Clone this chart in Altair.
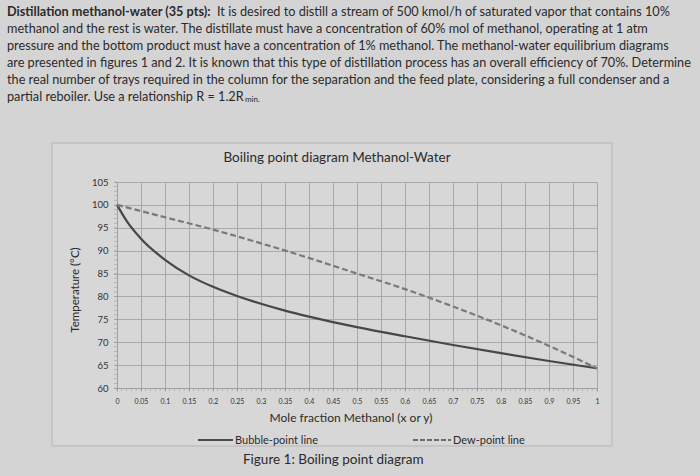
import altair as alt
import pandas as pd

# Bubble-point (liquid) line: x = mole fraction methanol, T in °C
bubble_x = [0, 0.02, 0.05, 0.1, 0.15, 0.2, 0.25, 0.3, 0.35, 0.4, 0.45, 0.5, 0.6, 0.7, 0.8, 0.9, 1.0]
bubble_t = [100, 96.5, 92.6, 88.0, 84.6, 82.1, 80.1, 78.4, 76.9, 75.6, 74.4, 73.3, 71.3, 69.4, 67.6, 65.9, 64.3]
# Dew-point (vapour) line
dew_x = [0, 0.1, 0.2, 0.3, 0.4, 0.5, 0.6, 0.7, 0.8, 0.9, 1.0]
dew_t = [100, 97.3, 94.6, 91.6, 88.4, 85.0, 81.6, 77.8, 73.7, 69.2, 64.3]

x_major = [round(i * 0.05, 2) for i in range(0, 21)]
y_major = list(range(60, 106, 5))
x_minor = [round(i * 0.01, 2) for i in range(0, 101)]
y_minor = list(range(60, 106))

para_bold = "Distillation methanol-water (35 pts):"
para_line1 = "It is desired to distill a stream of 500 kmol/h of saturated vapor that contains 10%"
para_rest = [
    "methanol and the rest is water. The distillate must have a concentration of 60% mol of methanol, operating at 1 atm",
    "pressure and the bottom product must have a concentration of 1% methanol. The methanol-water equilibrium diagrams",
    "are presented in figures 1 and 2. It is known that this type of distillation process has an overall efficiency of 70%. Determine",
    "the real number of trays required in the column for the separation and the feed plate, considering a full condenser and a",
    "partial reboiler. Use a relationship R = 1.2R",
]

FONT = "Lato"
TXT = "#2b2b2b"
OX, OY = 117, 182  # plot origin in page pixels
W, H = 480, 206

def px(v):
    return alt.value(v - OX)

def py(v):
    return alt.value(v - OY)

df_b = pd.DataFrame({"x": bubble_x, "T": bubble_t})
df_d = pd.DataFrame({"x": dew_x, "T": dew_t})

xscale = alt.Scale(domain=[0, 1], nice=False, zero=False)
yscale = alt.Scale(domain=[60, 105], nice=False, zero=False)
xaxis = alt.Axis(values=x_major, title=None, format="~g",
                 labelFontSize=7, labelColor="#222", labelFont=FONT,
                 labelPadding=6, labelAngle=0, labelOverlap=False, labelFlush=False,
                 gridColor="#a2a2a2", gridWidth=1,
                 tickColor="#999", tickSize=3, domainColor="#999")
yaxis = alt.Axis(values=y_major, title=None,
                 labelFontSize=9.5, labelColor="#222", labelFont=FONT,
                 labelPadding=6, labelOverlap=False, labelFlush=False,
                 gridColor="#a2a2a2", gridWidth=1,
                 tickColor="#999", tickSize=3, domainColor="#999")
xenc = alt.X("x:Q", scale=xscale, axis=xaxis)
yenc = alt.Y("T:Q", scale=yscale, axis=yaxis)

box = alt.Chart(pd.DataFrame({"a": [0]})).mark_rect(
    fill="#ffffff", fillOpacity=0.08, stroke="#b5b5b5", strokeWidth=1
).encode(x=px(52), x2=px(612), y=py(143), y2=py(446))

bubble = alt.Chart(df_b).mark_line(color="#474747", strokeWidth=2.2, interpolate="monotone").encode(
    x=xenc, y=yenc)
dew = alt.Chart(df_d).mark_line(color="#7a7a7a", strokeWidth=2.2, strokeDash=[6, 3],
                                 interpolate="monotone").encode(x=xenc, y=yenc)

minor_x = alt.Chart(pd.DataFrame({"x": x_minor})).mark_tick(
    color="#9a9a9a", thickness=0.8, size=3, orient="vertical"
).encode(x=xenc, y=alt.value(H + 1.5))
minor_y = alt.Chart(pd.DataFrame({"T": y_minor})).mark_tick(
    color="#9a9a9a", thickness=0.8, size=3, orient="horizontal"
).encode(y=yenc, x=alt.value(-1.5))

def text(t, x, y, size=12.7, weight="normal", align="left", baseline="alphabetic", angle=0, color=TXT):
    kw = dict(text=t, font=FONT, fontSize=size, fontWeight=weight, align=align,
              baseline=baseline, color=color)
    if angle:
        kw["angle"] = angle
    return alt.Chart(pd.DataFrame({"a": [0]})).mark_text(**kw).encode(x=px(x), y=py(y))

layers = [box, bubble, dew, minor_x, minor_y]
layers.append(text(para_bold, 7, 16, weight="bold"))
layers.append(text(para_line1, 217, 16))
for i, line in enumerate(para_rest):
    layers.append(text(line, 7, 33 + 17 * i))
layers.append(text("min.", 245, 102, size=8))

layers.append(text("Boiling point diagram Methanol-Water", 337, 162, size=13.5, align="center"))
layers.append(text("Temperature (°C)", 79, 290, size=11.5, align="center", angle=270))
layers.append(text("Mole fraction Methanol (x or y)", 351, 422, size=12, align="center"))

leg_df = pd.DataFrame({"a": [0]})
leg_solid = alt.Chart(leg_df).mark_rule(color="#4a4a4a", strokeWidth=2).encode(
    x=px(198), x2=px(233), y=py(440))
leg_dash = alt.Chart(leg_df).mark_rule(color="#6a6a6a", strokeWidth=2, strokeDash=[5, 2]).encode(
    x=px(413), x2=px(451), y=py(440))
layers += [leg_solid, leg_dash]
layers.append(text("Bubble-point line", 235, 444, size=11))
layers.append(text("Dew-point line", 453, 444, size=11))
layers.append(text("Figure 1: Boiling point diagram", 243, 464, size=13.5))

chart = alt.layer(*layers).properties(
    width=W, height=H,
    autosize=alt.AutoSizeParams(type="none"),
    padding={"left": OX, "top": OY, "right": 700 - OX - W, "bottom": 476 - OY - H},
    background="#d4d4d4",
).configure_view(stroke=None)

chart.save("out.html", embed_options={"renderer": "svg", "actions": False})
